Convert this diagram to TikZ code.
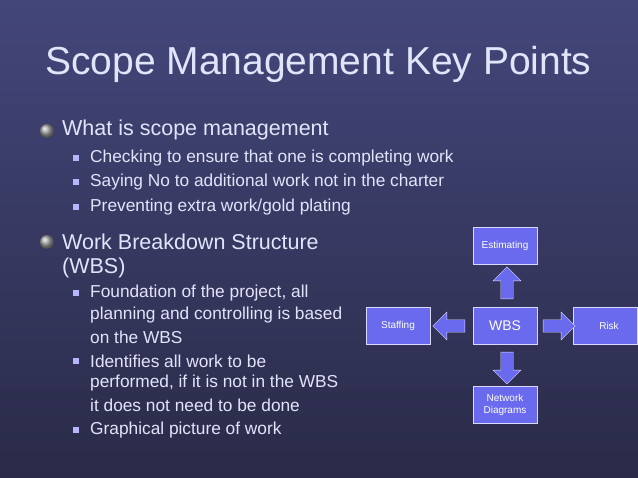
\documentclass[tikz,border=0pt]{standalone}
\usepackage{fontspec}
\setmainfont{Liberation Sans}
\usetikzlibrary{shapes.arrows,shadows}
\definecolor{txt}{HTML}{E2E4FA}
\definecolor{boxc}{HTML}{6A6AEE}
\definecolor{bgt}{HTML}{43467A}
\definecolor{bgb}{HTML}{2A2B48}
\tikzset{
 ttl/.style={anchor=west,text=txt,font=\fontsize{39}{41}\selectfont,inner sep=0},
 lone/.style={anchor=west,text=txt,font=\fontsize{21.5}{23}\selectfont,inner sep=0},
 ltwo/.style={anchor=west,text=txt,font=\fontsize{17.3}{19}\selectfont,inner sep=0},
 sq/.style={fill=txt!80!blue,minimum size=6pt,inner sep=0},
 ball/.style={circle,inner sep=0,minimum size=14pt,shading=ball,ball color=gray!70},
 wbox/.style={draw=white!85!blue,fill=boxc,minimum width=64pt,minimum height=37pt,text=white,align=center,font=\fontsize{10}{12}\selectfont},
 arr/.style={single arrow,draw=white!85!blue,fill=boxc,minimum height=32pt,minimum width=28pt,single arrow head extend=4pt,inner sep=3pt}
}
\begin{document}
\begin{tikzpicture}[x=1pt,y=-1pt]
\shade[top color=bgt,bottom color=bgb] (0,0) rectangle (638,478);
\useasboundingbox (0,0) rectangle (638,478);
\node[ttl] (t) at (45,64) {Scope Management Key Points};
\node[ball] (b1) at (47,131) {};
\node[lone] (l1) at (62,130) {What is scope management};
\node[sq] (s1) at (76,158) {};
\node[ltwo] (m1) at (90,158) {Checking to ensure that one is completing work};
\node[sq] (s2) at (76,182) {};
\node[ltwo] (m2) at (90,182) {Saying No to additional work not in the charter};
\node[sq] (s3) at (76,207) {};
\node[ltwo] (m3) at (90,207) {Preventing extra work/gold plating};
\node[ball] (b2) at (47,242) {};
\node[lone] (l2) at (62,242) {Work Breakdown Structure};
\node[lone] (l3) at (62,268) {(WBS)};
\node[sq] (q1) at (76,293) {};
\node[ltwo] (n1) at (90,293) {Foundation of the project, all};
\node[ltwo] (n2) at (90,315) {planning and controlling is based};
\node[ltwo] (n3) at (90,337) {on the WBS};
\node[sq] (q2) at (76,361) {};
\node[ltwo] (n4) at (90,361) {Identifies all work to be};
\node[ltwo] (n5) at (90,383) {performed, if it is not in the WBS};
\node[ltwo] (n6) at (90,405) {it does not need to be done};
\node[sq] (q3) at (76,430) {};
\node[ltwo] (n7) at (90,430) {Graphical picture of work};
\node[wbox] (est) at (505,246) {Estimating};
\node[wbox,font=\fontsize{14}{16}\selectfont] (wbs) at (505,326) {WBS};
\node[wbox] (sta) at (398,326) {Staffing};
\node[wbox] (risk) at (605,326) {\hspace*{8pt}Risk};
\node[wbox] (net) at (505,405) {Network\\Diagrams};
\node[arr,rotate=90] (au) at (507,286) {};
\node[arr,rotate=-90] (ad) at (507,365) {};
\node[arr,rotate=180] (al) at (452,326) {};
\node[arr] (ar) at (556,326) {};
\end{tikzpicture}
\end{document}
